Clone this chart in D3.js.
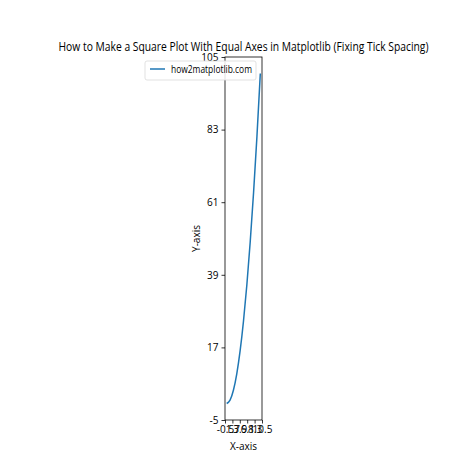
<!DOCTYPE html>
<html>
<head>
<meta charset="utf-8">
<script src="https://cdn.jsdelivr.net/npm/d3@7"></script>
<style>
  body { margin: 0; background: #fff; }
  text { font-family: "Open Sans", "DejaVu Sans", sans-serif; fill: #000; }
</style>
</head>
<body>
<svg id="chart" width="474" height="474"></svg>
<script>
// values
const xValues = [0, 1, 2, 3, 4, 5, 6, 7, 8, 9, 10];
const yValues = [0, 1, 4, 9, 16, 25, 36, 49, 64, 81, 100];
const xTicks = [-0.5, 1.7, 3.9, 6.1, 8.3, 10.5];
const yTicks = [-5, 17, 39, 61, 83, 105];
const seriesName = "how2matplotlib.com";
const title = "How to Make a Square Plot With Equal Axes in Matplotlib (Fixing Tick Spacing)";

const plotLeft = 225, plotRight = 262, plotTop = 57, plotBottom = 420;

const svg = d3.select("#chart");

const x = d3.scaleLinear().domain([-0.5, 10.5]).range([plotLeft, plotRight]);
const y = d3.scaleLinear().domain([-5, 105]).range([plotBottom, plotTop]);

const points = xValues.map((v, i) => [v, yValues[i]]);

// curve
const line = d3.line()
  .x(d => x(d[0]))
  .y(d => y(d[1]))
  .curve(d3.curveMonotoneX);

svg.append("path")
  .datum(points)
  .attr("d", line)
  .attr("fill", "none")
  .attr("stroke", "#1f77b4")
  .attr("stroke-width", 1.5);

// frame
svg.append("rect")
  .attr("x", plotLeft).attr("y", plotTop)
  .attr("width", plotRight - plotLeft).attr("height", plotBottom - plotTop)
  .attr("fill", "none")
  .attr("stroke", "#000")
  .attr("stroke-width", 0.8);

// axes
const xAxis = d3.axisBottom(x).tickValues(xTicks).tickSize(3.5).tickPadding(2)
  .tickFormat(d3.format(".1f"));
const yAxis = d3.axisLeft(y).tickValues(yTicks).tickSize(3.5).tickPadding(3)
  .tickFormat(d3.format("d"));

const gx = svg.append("g").attr("transform", `translate(0,${plotBottom})`).call(xAxis);
const gy = svg.append("g").attr("transform", `translate(${plotLeft},0)`).call(yAxis);

[gx, gy].forEach(g => {
  g.select(".domain").remove();
  g.selectAll(".tick line").attr("stroke", "#000").attr("stroke-width", 0.8);
  g.selectAll(".tick text")
    .attr("font-size", 10)
    .attr("font-family", "Open Sans, DejaVu Sans, sans-serif")
    .attr("fill", "#000")
    .text(d => String(d3.format(g === gx ? ".1f" : "d")(d)).replace("\u2212", "-"));
});

// axis labels
svg.append("text")
  .attr("x", (plotLeft + plotRight) / 2).attr("y", 450)
  .attr("text-anchor", "middle")
  .attr("font-size", 10)
  .text("X-axis");

svg.append("text")
  .attr("transform", `translate(200,${(plotTop + plotBottom) / 2}) rotate(-90)`)
  .attr("text-anchor", "middle")
  .attr("font-size", 10)
  .text("Y-axis");

// title
svg.append("text")
  .attr("x", 243.5).attr("y", 51)
  .attr("text-anchor", "middle")
  .attr("font-size", 12)
  .attr("textLength", 370)
  .attr("lengthAdjust", "spacingAndGlyphs")
  .text(title);

// legend
const legend = svg.append("g");
legend.append("rect")
  .attr("x", 145).attr("y", 61)
  .attr("width", 111).attr("height", 19)
  .attr("rx", 2)
  .attr("fill", "#fff")
  .attr("fill-opacity", 0.85)
  .attr("stroke", "#d9d9d9")
  .attr("stroke-width", 0.8);
legend.append("line")
  .attr("x1", 150).attr("x2", 165)
  .attr("y1", 69).attr("y2", 69)
  .attr("stroke", "#1f77b4")
  .attr("stroke-width", 1.5);
legend.append("text")
  .attr("x", 171).attr("y", 73)
  .attr("font-size", 10)
  .attr("textLength", 81)
  .attr("lengthAdjust", "spacingAndGlyphs")
  .text(seriesName);
</script>
</body>
</html>
